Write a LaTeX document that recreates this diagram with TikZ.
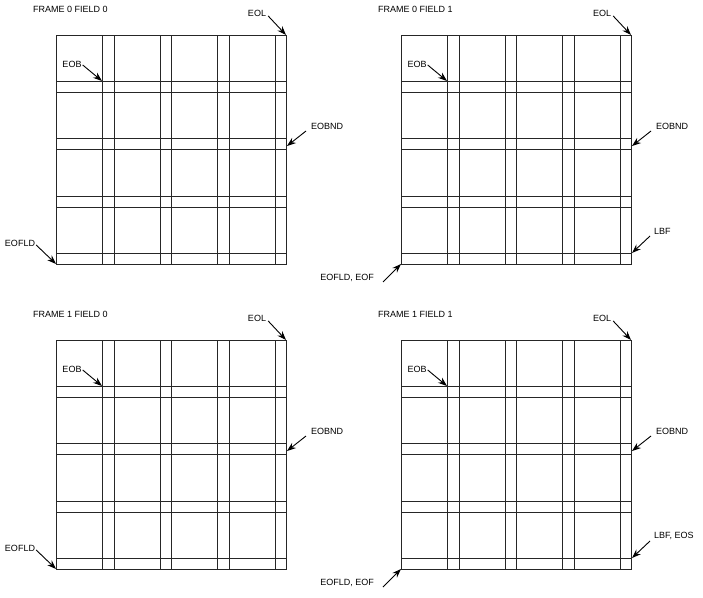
\documentclass[tikz,border=0pt]{standalone}
\usepackage{fontspec}
\setmainfont{Liberation Sans}
\usetikzlibrary{arrows.meta}
\begin{document}
\begin{tikzpicture}[x=1pt,y=-1pt,
  lbl/.style={font=\fontsize{9}{10}\selectfont,inner sep=1pt},
  ptr/.style={-{Stealth[length=9pt,width=6.5pt]},line width=0.9pt},
  gridline/.style={line width=0.9pt,draw=black!85}]
\useasboundingbox (0,0) rectangle (703,597);
\newcommand{\panel}[6]{%
 \begin{scope}[shift={(#1,#2)}]
  \node[lbl,anchor=west] (t#3) at (32,9) {#4};
  \draw[gridline] (56,35) rectangle (286,264);
  \foreach \xx in {102,114,160,171,217,229,275}
    \draw[gridline] (\xx,35) -- (\xx,264);
  \foreach \yy in {81,92,138,149,196,207,253}
    \draw[gridline] (56,\yy) -- (286,\yy);
  \node[lbl] (eol#3) at (257,13) {EOL};
  \coordinate (ceol#3) at (286,35);
  \draw[ptr] (eol#3.east) ++(1,3) -- (ceol#3);
  \node[lbl] (eob#3) at (72,64) {EOB};
  \coordinate (ceob#3) at (102,81);
  \draw[ptr] (eob#3.east) ++(0,1) -- (ceob#3);
  \node[lbl] (eobnd#3) at (327,126) {EOBND};
  \coordinate (ceobnd#3) at (287,146);
  \draw[ptr] (306,131) -- (ceobnd#3);
  #5
  #6
 \end{scope}}
\panel{0}{0}{a}{FRAME 0 FIELD 0}{%
  \node[lbl] (fld) at (20,243) {EOFLD};
  \coordinate (cfld) at (56,264);
  \draw[ptr] (fld.east) ++(0,2) -- (cfld);}{}
\panel{345}{0}{b}{FRAME 0 FIELD 1}{%
  \node[lbl] (fldb) at (2,278) {EOFLD, EOF};
  \coordinate (cfldb) at (56,264);
  \draw[ptr] (38,282) -- (cfldb);}{%
  \node[lbl,anchor=west] (lbfb) at (308,231) {LBF};
  \coordinate (clbfb) at (287,253);
  \draw[ptr] (305,236) -- (clbfb);}
\panel{0}{305}{c}{FRAME 1 FIELD 0}{%
  \node[lbl] (fldc) at (20,243) {EOFLD};
  \coordinate (cfldc) at (56,264);
  \draw[ptr] (fldc.east) ++(0,2) -- (cfldc);}{}
\panel{345}{305}{d}{FRAME 1 FIELD 1}{%
  \node[lbl] (fldd) at (2,278) {EOFLD, EOF};
  \coordinate (cfldd) at (56,264);
  \draw[ptr] (38,282) -- (cfldd);}{%
  \node[lbl,anchor=west] (lbfd) at (308,231) {LBF, EOS};
  \coordinate (clbfd) at (287,253);
  \draw[ptr] (305,236) -- (clbfd);}
\end{tikzpicture}
\end{document}
